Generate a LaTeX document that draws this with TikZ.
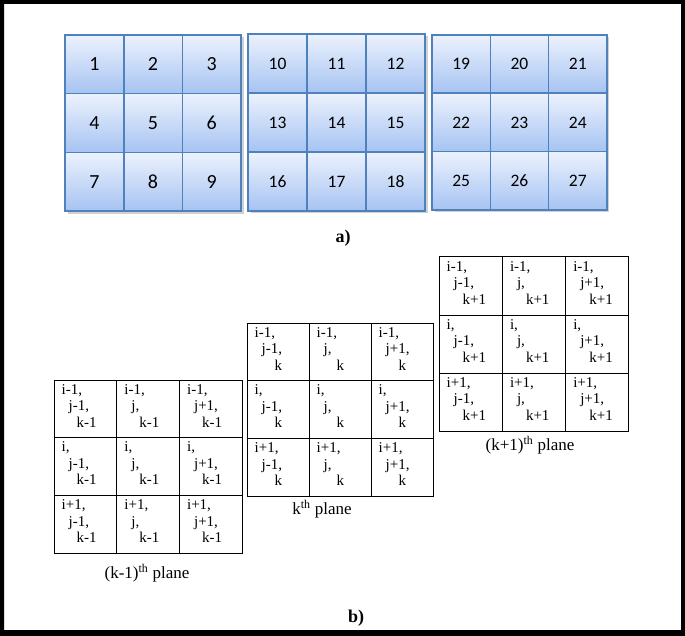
\documentclass[tikz,border=0pt]{standalone}
\usepackage{fontspec}
\setmainfont{Liberation Serif}
\newfontfamily\numfont{Carlito}
\usetikzlibrary{calc}
\definecolor{cellblue}{RGB}{79,129,189}
\definecolor{celltop}{RGB}{236,242,253}
\definecolor{cellbot}{RGB}{166,195,242}
\tikzset{
 acell/.style={draw=cellblue, line width=1.6pt, top color=celltop, bottom color=cellbot, inner sep=0pt},
 bcell/.style={draw=black, line width=1pt, inner sep=0pt},
 btext/.style={anchor=north west, align=left, inner sep=0pt, font=\fontsize{15}{16.5}\selectfont},
 plabel/.style={font=\fontsize{17}{20}\selectfont, inner sep=0pt},
 partlabel/.style={font=\fontsize{18}{20}\selectfont\bfseries, inner sep=0pt},
 gshadow/.style={fill=black!18},
}
\begin{document}
\begin{tikzpicture}[x=1pt,y=-1pt]
\useasboundingbox (0,0) rectangle (685,636);
\fill[white] (0,0) rectangle (685,636);
\fill[black, even odd rule] (0,0) rectangle (685,636) (4,4) rectangle (681,630);
% part a
\foreach \g/\xo/\yo/\s/\fs in {0/65/35/58.7/20, 1/248/34/59/17.5, 2/432/35/58.3/17.5} {
  \fill[gshadow] (\xo+2.5,\yo+2.5) rectangle ++(3*\s,3*\s);
  \foreach \r in {0,1,2} {
    \foreach \c in {0,1,2} {
      \pgfmathtruncatemacro\n{9*\g+3*\r+\c+1}
      \node[acell, minimum width=\s pt, minimum height=\s pt, font=\numfont\fontsize{\fs}{\fs}\selectfont] (a\n) at (\xo+\c*\s+\s/2, \yo+\r*\s+\s/2) {\n};
    }
  }
}
\node[partlabel] (pa) at (343,238) {a)};
% part b
\foreach \g/\xo/\yo/\w/\h/\kk/\ind in {0/54/380/62.7/57.7/k-1/15, 1/247/323/62/57.7/k/20, 2/439/257/63.3/58/k+1/16} {
  \foreach \r/\ii in {0/i-1,1/i,2/i+1} {
    \foreach \c/\jj in {0/j-1,1/j,2/j+1} {
      \node[bcell, minimum width=\w pt, minimum height=\h pt] (b\g\r\c) at (\xo+\c*\w+\w/2, \yo+\r*\h+\h/2) {};
      \node[btext] (t\g\r\c) at ($(b\g\r\c.north west)+(8,4.5)$) {\ii,\\\hspace*{7pt}\jj,\\\hspace*{\ind pt}\kk};
    }
  }
}
\node[plabel] (l0) at (147,573) {(k-1)\textsuperscript{th} plane};
\node[plabel] (l1) at (322,509) {k\textsuperscript{th} plane};
\node[plabel] (l2) at (530,445) {(k+1)\textsuperscript{th} plane};
\node[partlabel] (pb) at (356,618) {b)};
\end{tikzpicture}
\end{document}
